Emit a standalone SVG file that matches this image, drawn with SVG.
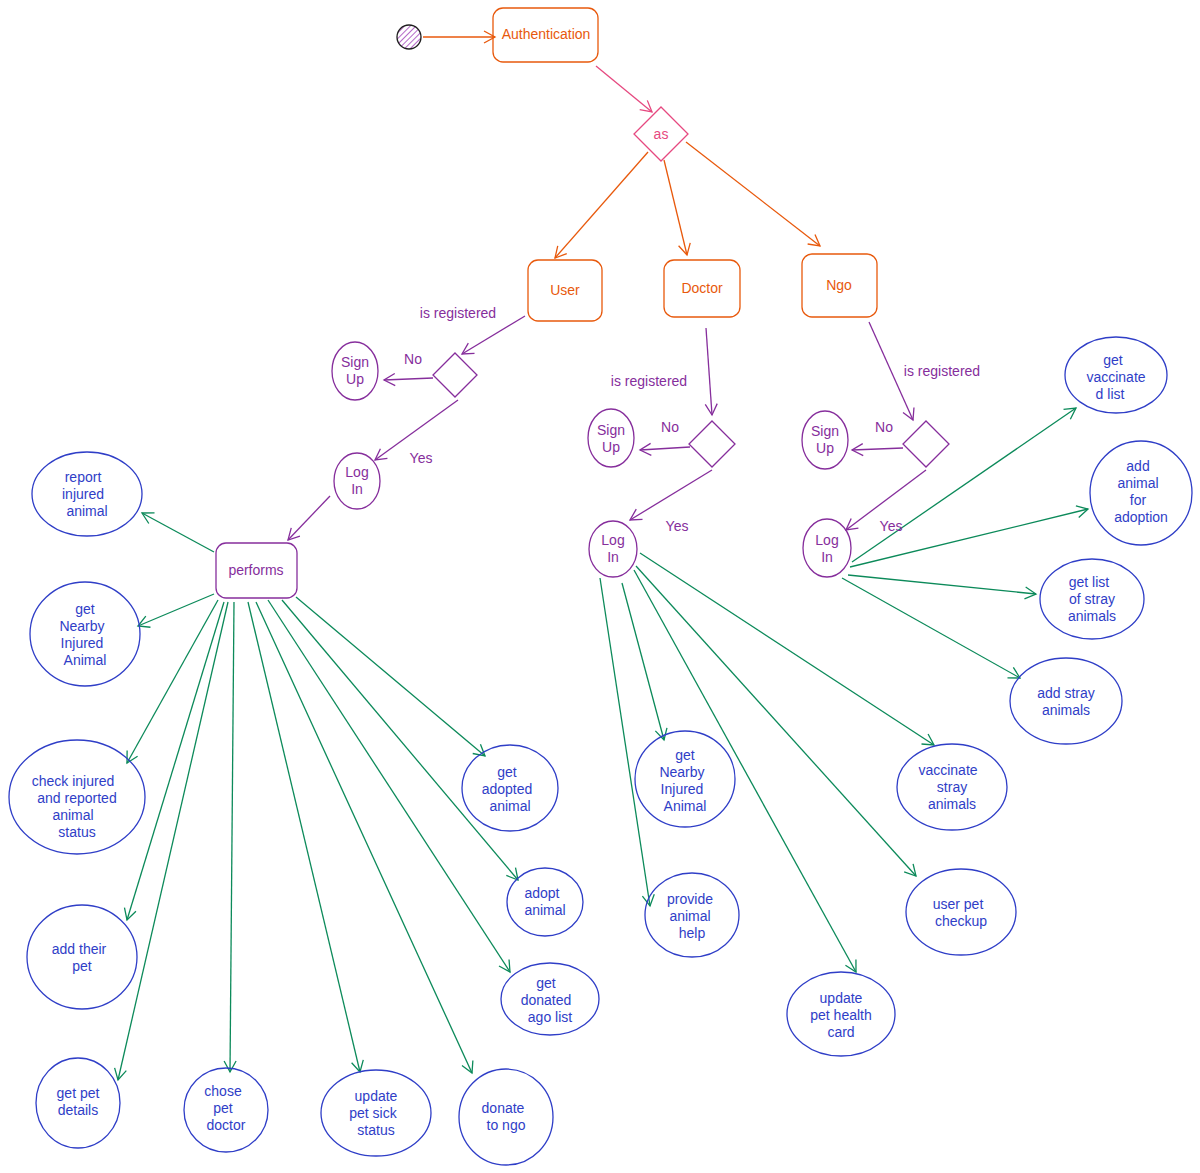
<svg xmlns="http://www.w3.org/2000/svg" width="1200" height="1173" viewBox="0 0 1200 1173">
<defs>
<pattern id="hatch" width="4" height="4" patternUnits="userSpaceOnUse" patternTransform="rotate(45)"><line x1="0" y1="0" x2="0" y2="4" stroke="#9c36b5" stroke-width="1.5"/></pattern>
<marker id="ao" markerWidth="14" markerHeight="14" refX="12" refY="7" orient="auto" markerUnits="userSpaceOnUse"><path d="M1,1 L12,7 L1,13" fill="none" stroke="#e8590c" stroke-width="1.3"/></marker>
<marker id="ap" markerWidth="14" markerHeight="14" refX="12" refY="7" orient="auto" markerUnits="userSpaceOnUse"><path d="M1,1 L12,7 L1,13" fill="none" stroke="#e64980" stroke-width="1.3"/></marker>
<marker id="av" markerWidth="14" markerHeight="14" refX="12" refY="7" orient="auto" markerUnits="userSpaceOnUse"><path d="M1,1 L12,7 L1,13" fill="none" stroke="#862e9c" stroke-width="1.3"/></marker>
<marker id="ag" markerWidth="14" markerHeight="14" refX="12" refY="7" orient="auto" markerUnits="userSpaceOnUse"><path d="M1,1 L12,7 L1,13" fill="none" stroke="#0c8a5a" stroke-width="1.3"/></marker>
</defs>
<style>
text{font-family:"Comic Sans MS","Liberation Sans",sans-serif;font-size:14px;text-anchor:middle}
.o{fill:none;stroke:#e8590c;stroke-width:1.3}
.p{fill:none;stroke:#e64980;stroke-width:1.3}
.ot{fill:#e8590c}
.v{fill:none;stroke:#862e9c;stroke-width:1.3}
.vt{fill:#862e9c}
.b{fill:none;stroke:#2f3ec7;stroke-width:1.3}
.bt{fill:#2f3ec7}
.co line{stroke-width:1.3}
.go{stroke:#e8590c;marker-end:url(#ao)}
.gp{stroke:#e64980;marker-end:url(#ap)}
.gv{stroke:#862e9c;marker-end:url(#av)}
.gg{stroke:#0c8a5a;marker-end:url(#ag)}
</style>
<rect width="1200" height="1173" fill="#fff"/>
<g id="connectors" class="co">
<line class="go" x1="423" y1="37" x2="495" y2="37"/>
<line class="gp" x1="596" y1="66" x2="652" y2="112"/>
<line class="go" x1="648" y1="152" x2="555" y2="258"/>
<line class="go" x1="664" y1="160" x2="687" y2="255"/>
<line class="go" x1="686" y1="142" x2="820" y2="246"/>
<line class="gv" x1="525" y1="316" x2="462" y2="354"/>
<line class="gv" x1="433" y1="378" x2="384" y2="380"/>
<line class="gv" x1="458" y1="400" x2="375" y2="460"/>
<line class="gv" x1="330" y1="496" x2="288" y2="540"/>
<line class="gv" x1="706" y1="328" x2="712" y2="415"/>
<line class="gv" x1="690" y1="447" x2="640" y2="450"/>
<line class="gv" x1="712" y1="470" x2="630" y2="520"/>
<line class="gv" x1="869" y1="322" x2="913" y2="420"/>
<line class="gv" x1="903" y1="448" x2="852" y2="450"/>
<line class="gv" x1="926" y1="470" x2="846" y2="530"/>
<line class="gg" x1="214" y1="552" x2="142" y2="513"/>
<line class="gg" x1="214" y1="594" x2="138" y2="626"/>
<line class="gg" x1="218" y1="600" x2="127" y2="763"/>
<line class="gg" x1="224" y1="602" x2="127" y2="920"/>
<line class="gg" x1="228" y1="602" x2="118" y2="1080"/>
<line class="gg" x1="234" y1="602" x2="230" y2="1072"/>
<line class="gg" x1="248" y1="602" x2="360" y2="1072"/>
<line class="gg" x1="256" y1="602" x2="472" y2="1073"/>
<line class="gg" x1="268" y1="600" x2="510" y2="972"/>
<line class="gg" x1="282" y1="600" x2="518" y2="880"/>
<line class="gg" x1="296" y1="597" x2="485" y2="756"/>
<line class="gg" x1="622" y1="583" x2="664" y2="740"/>
<line class="gg" x1="600" y1="578" x2="650" y2="906"/>
<line class="gg" x1="634" y1="570" x2="856" y2="972"/>
<line class="gg" x1="636" y1="566" x2="916" y2="876"/>
<line class="gg" x1="640" y1="553" x2="934" y2="745"/>
<line class="gg" x1="852" y1="562" x2="1076" y2="408"/>
<line class="gg" x1="850" y1="567" x2="1088" y2="509"/>
<line class="gg" x1="848" y1="575" x2="1036" y2="594"/>
<line class="gg" x1="842" y1="578" x2="1020" y2="678"/>
</g>
<g id="start"><circle cx="409" cy="37" r="12" fill="url(#hatch)" stroke="#1e1e1e" stroke-width="1.3"/></g>
<g id="auth"><rect class="o" x="493" y="8" width="105" height="54" rx="10"/><text class="ot" x="546" y="39">Authentication</text></g>
<g id="as"><path class="p" d="M661,107 L688,134 L661,161 L634,134 Z"/><text x="661" y="139" fill="#e64980">as</text></g>
<g id="user"><rect class="o" x="528" y="260" width="74" height="61" rx="10"/><text class="ot" x="565" y="295">User</text></g>
<g id="doctor"><rect class="o" x="664" y="260" width="76" height="57" rx="10"/><text class="ot" x="702" y="293">Doctor</text></g>
<g id="ngo"><rect class="o" x="802" y="254" width="75" height="63" rx="10"/><text class="ot" x="839" y="290">Ngo</text></g>
<g id="labels" class="vt">
<text x="458" y="318">is registered</text><text x="413" y="364">No</text><text x="421" y="463">Yes</text>
<text x="649" y="386">is registered</text><text x="670" y="432">No</text><text x="677" y="531">Yes</text>
<text x="942" y="376">is registered</text><text x="884" y="432">No</text><text x="891" y="531">Yes</text>
</g>
<g id="d1"><path class="v" d="M455,353 L477,375 L455,397 L433,375 Z"/></g>
<g id="d2"><path class="v" d="M712,421 L735,444 L712,467 L689,444 Z"/></g>
<g id="d3"><path class="v" d="M926,421 L949,444 L926,467 L903,444 Z"/></g>
<g id="signup1"><ellipse class="v" cx="355" cy="371" rx="23" ry="29"/><text class="vt" x="355" y="367">Sign</text><text class="vt" x="355" y="384">Up</text></g>
<g id="login1"><ellipse class="v" cx="357" cy="481" rx="23" ry="28"/><text class="vt" x="357" y="477">Log</text><text class="vt" x="357" y="494">In</text></g>
<g id="signup2"><ellipse class="v" cx="611" cy="438" rx="23" ry="29"/><text class="vt" x="611" y="435">Sign</text><text class="vt" x="611" y="452">Up</text></g>
<g id="login2"><ellipse class="v" cx="613" cy="549" rx="24" ry="28"/><text class="vt" x="613" y="545">Log</text><text class="vt" x="613" y="562">In</text></g>
<g id="signup3"><ellipse class="v" cx="825" cy="440" rx="23" ry="29"/><text class="vt" x="825" y="436">Sign</text><text class="vt" x="825" y="453">Up</text></g>
<g id="login3"><ellipse class="v" cx="827" cy="548" rx="24" ry="29"/><text class="vt" x="827" y="545">Log</text><text class="vt" x="827" y="562">In</text></g>
<g id="performs"><rect class="v" x="216" y="543" width="81" height="55" rx="10"/><text class="vt" x="256" y="575">performs</text></g>
<g class="bt">
<g id="n1"><ellipse class="b" cx="87" cy="494" rx="55" ry="42"/><text x="83" y="482">report</text><text x="83" y="499">injured</text><text x="87" y="516">animal</text></g>
<g id="n2"><ellipse class="b" cx="85" cy="634" rx="55" ry="52"/><text x="85" y="614">get</text><text x="82" y="631">Nearby</text><text x="82" y="648">Injured</text><text x="85" y="665">Animal</text></g>
<g id="n3"><ellipse class="b" cx="77" cy="797" rx="68" ry="57"/><text x="73" y="786">check injured</text><text x="77" y="803">and reported</text><text x="73" y="820">animal</text><text x="77" y="837">status</text></g>
<g id="n4"><ellipse class="b" cx="82" cy="957" rx="55" ry="52"/><text x="79" y="954">add their</text><text x="82" y="971">pet</text></g>
<g id="n5"><ellipse class="b" cx="78" cy="1103" rx="42" ry="45"/><text x="78" y="1098">get pet</text><text x="78" y="1115">details</text></g>
<g id="n6"><ellipse class="b" cx="226" cy="1110" rx="42" ry="42"/><text x="223" y="1096">chose</text><text x="223" y="1113">pet</text><text x="226" y="1130">doctor</text></g>
<g id="n7"><ellipse class="b" cx="376" cy="1113" rx="55" ry="43"/><text x="376" y="1101">update</text><text x="373" y="1118">pet sick</text><text x="376" y="1135">status</text></g>
<g id="n8"><ellipse class="b" cx="506" cy="1117" rx="47" ry="48"/><text x="503" y="1113">donate</text><text x="506" y="1130">to ngo</text></g>
<g id="n9"><ellipse class="b" cx="550" cy="999" rx="49" ry="36"/><text x="546" y="988">get</text><text x="546" y="1005">donated</text><text x="550" y="1022">ago list</text></g>
<g id="n10"><ellipse class="b" cx="545" cy="902" rx="38" ry="34"/><text x="542" y="898">adopt</text><text x="545" y="915">animal</text></g>
<g id="n11"><ellipse class="b" cx="510" cy="788" rx="48" ry="43"/><text x="507" y="777">get</text><text x="507" y="794">adopted</text><text x="510" y="811">animal</text></g>
<g id="n12"><ellipse class="b" cx="685" cy="779" rx="50" ry="48"/><text x="685" y="760">get</text><text x="682" y="777">Nearby</text><text x="682" y="794">Injured</text><text x="685" y="811">Animal</text></g>
<g id="n13"><ellipse class="b" cx="692" cy="915" rx="47" ry="42"/><text x="690" y="904">provide</text><text x="690" y="921">animal</text><text x="692" y="938">help</text></g>
<g id="n14"><ellipse class="b" cx="841" cy="1014" rx="54" ry="42"/><text x="841" y="1003">update</text><text x="841" y="1020">pet health</text><text x="841" y="1037">card</text></g>
<g id="n15"><ellipse class="b" cx="961" cy="912" rx="55" ry="43"/><text x="958" y="909">user pet</text><text x="961" y="926">checkup</text></g>
<g id="n16"><ellipse class="b" cx="952" cy="787" rx="55" ry="43"/><text x="948" y="775">vaccinate</text><text x="952" y="792">stray</text><text x="952" y="809">animals</text></g>
<g id="n17"><ellipse class="b" cx="1116" cy="375" rx="51" ry="38"/><text x="1113" y="365">get</text><text x="1116" y="382">vaccinate</text><text x="1110" y="399">d list</text></g>
<g id="n18"><ellipse class="b" cx="1141" cy="493" rx="51" ry="52"/><text x="1138" y="471">add</text><text x="1138" y="488">animal</text><text x="1138" y="505">for</text><text x="1141" y="522">adoption</text></g>
<g id="n19"><ellipse class="b" cx="1092" cy="599" rx="52" ry="40"/><text x="1089" y="587">get list</text><text x="1092" y="604">of stray</text><text x="1092" y="621">animals</text></g>
<g id="n20"><ellipse class="b" cx="1066" cy="701" rx="56" ry="43"/><text x="1066" y="698">add stray</text><text x="1066" y="715">animals</text></g>
</g>
</svg>
